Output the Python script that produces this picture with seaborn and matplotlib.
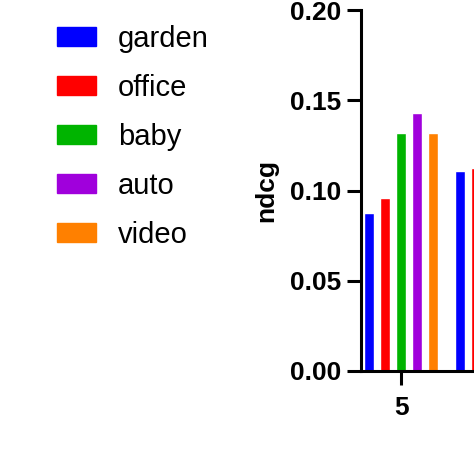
import matplotlib
matplotlib.use("Agg")
import matplotlib.pyplot as plt
import pandas as pd
import seaborn as sns

# values (second group is cut by the right edge)
domains = ['garden', 'office', 'baby', 'auto', 'video']
colors = ['#0000FF', '#FF0000', '#00B400', '#A000DC', '#FF8000']
k_labels = ['5', '5', '5', '5', '5', '10', '10']
k_domains = ['garden', 'office', 'baby', 'auto', 'video', 'garden', 'office']
ndcg = [0.0874, 0.0960, 0.1320, 0.1430, 0.1320, 0.1106, 0.1123]

df = pd.DataFrame({'k': k_labels, 'domain': k_domains, 'ndcg': ndcg})

sns.set_style('ticks')
plt.rcParams['font.family'] = ['Liberation Sans', 'DejaVu Sans']
plt.rcParams['text.color'] = 'black'
plt.rcParams['axes.labelcolor'] = 'black'
plt.rcParams['xtick.color'] = 'black'
plt.rcParams['ytick.color'] = 'black'

fig = plt.figure(figsize=(4.74, 4.74), dpi=100)
# axes runs past the right edge of the figure, like the cropped original
ax = fig.add_axes([361 / 474, 103 / 474, 2.0 * 91 / 474, 361 / 474])

sns.barplot(data=df, x='k', y='ndcg', hue='domain', hue_order=domains,
            order=['5', '10'], palette=colors, width=0.879, gap=0.33,
            saturation=1, ax=ax, legend=False)

ax.set_xlim(-0.44, 1.56)
ax.set_ylim(0, 0.20)
ax.set_xticks([0])
ax.set_xticklabels(['5'])
ax.set_yticks([0.00, 0.05, 0.10, 0.15, 0.20])
ax.set_yticklabels(['0.00', '0.05', '0.10', '0.15', '0.20'])
ax.set_xlabel('')
ax.set_ylabel('ndcg', fontsize=19, fontweight='bold', labelpad=9)

for s in ['top', 'right']:
    ax.spines[s].set_visible(False)
for s in ['left', 'bottom']:
    ax.spines[s].set_linewidth(2.2)
    ax.spines[s].set_color('black')

ax.tick_params(axis='both', direction='out', length=10, width=2.2,
               color='black', labelcolor='black', labelsize=19)
ax.tick_params(axis='y', pad=4)
ax.tick_params(axis='x', pad=8)
for lab in ax.get_xticklabels() + ax.get_yticklabels():
    lab.set_fontweight('bold')

handles = [plt.Rectangle((0, 0), 1, 1, color=c) for c in colors]
fig.legend(handles, domains, loc='upper left', bbox_to_anchor=(57 / 474, 1 - 25 / 474),
           frameon=False, fontsize=21, handlelength=1.34, handleheight=0.65,
           handletextpad=0.75, labelspacing=0.72, borderpad=0, borderaxespad=0)

fig.savefig('out.png', dpi=100)
